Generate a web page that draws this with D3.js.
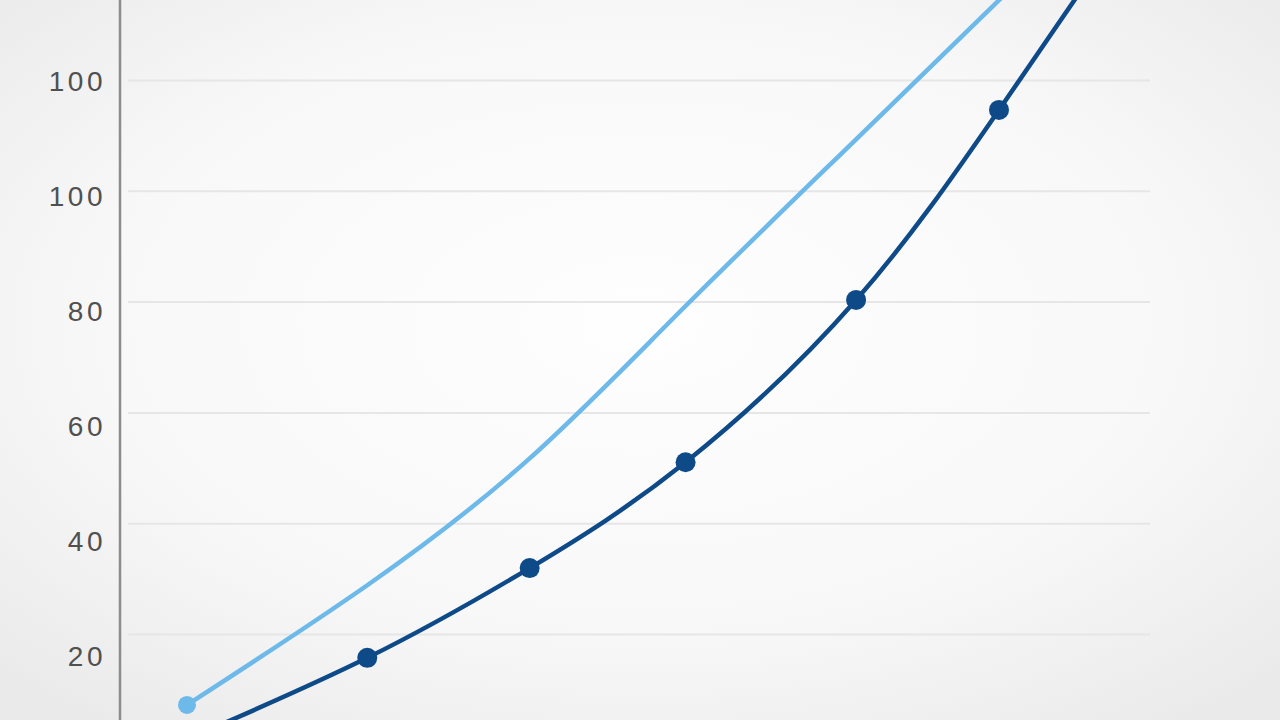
<!DOCTYPE html>
<html>
<head>
<meta charset="utf-8">
<script src="https://cdn.jsdelivr.net/npm/d3@7"></script>
<style>
  html, body { margin: 0; padding: 0; overflow: hidden; }
  body { width: 1280px; height: 720px; }
  .tick text { font-family: "Liberation Sans", Arial, sans-serif; }
</style>
</head>
<body>
<div id="chart"></div>
<script>
const width = 1280;
const height = 720;

// x positions of the points (unlabelled axis)
const xValues = [0, 1.11, 2.11, 3.07, 4.12, 5, 5.9];
const darkValues = [1, 15.7, 31.9, 51.0, 80.3, 114.6, 153];
const lightValues = [7.2, 28.8, 51.7, 79.2, 109.3, 134.4, 159.7];
const darkMarkers = [false, true, true, true, true, true, true];
const lightMarkers = [true, false, false, false, false, false, false];

const yTicks = [20, 40, 60, 80, 100, 120];
const tickLabels = ["20", "40", "60", "80", "100", "100"];

const axisX = 120;
const gridLeft = 128;
const gridRight = 1150;

const svg = d3
  .select("#chart")
  .append("svg")
  .attr("width", width)
  .attr("height", height);

// soft grey vignette behind the plot
const defs = svg.append("defs");
const bg = defs
  .append("radialGradient")
  .attr("id", "bg")
  .attr("cx", "50%")
  .attr("cy", "45%")
  .attr("r", "70%");
bg.append("stop").attr("offset", "0%").attr("stop-color", "#fefefe");
bg.append("stop").attr("offset", "60%").attr("stop-color", "#f8f8f8");
bg.append("stop").attr("offset", "100%").attr("stop-color", "#eaeaea");

svg
  .append("rect")
  .attr("width", width)
  .attr("height", height)
  .attr("fill", "url(#bg)");

const x = d3.scaleLinear().domain([0, 5]).range([187, 999]);
// gridlines and data
const y = d3.scaleLinear().domain([20, 120]).range([634, 80]);
// tick labels drift slightly off the gridlines in the original
const yLabel = d3.scaleLinear().domain([20, 120]).range([657, 82]);

// gridlines
svg
  .append("g")
  .attr("class", "grid")
  .attr("transform", `translate(${gridLeft},0)`)
  .call(
    d3
      .axisLeft(y)
      .tickValues(yTicks)
      .tickSize(-(gridRight - gridLeft))
      .tickFormat("")
  )
  .call((g) => g.select(".domain").remove())
  .call((g) =>
    g.selectAll("line").attr("stroke", "#e6e6e6").attr("stroke-width", 2)
  );

// tick labels
svg
  .append("g")
  .attr("class", "y-axis")
  .attr("transform", `translate(${axisX},0)`)
  .call(
    d3
      .axisLeft(yLabel)
      .tickValues(yTicks)
      .tickSize(0)
      .tickPadding(14)
      .tickFormat((d, i) => tickLabels[i])
  )
  .call((g) => g.select(".domain").remove())
  .call((g) =>
    g
      .selectAll("text")
      .attr("fill", "#505050")
      .style("font-size", "28px")
      .style("letter-spacing", "3.5px")
  );

// axis line runs the full height
svg
  .append("line")
  .attr("x1", axisX)
  .attr("x2", axisX)
  .attr("y1", 0)
  .attr("y2", height)
  .attr("stroke", "#8c8c8c")
  .attr("stroke-width", 2.5);

const series = [
  { name: "light", values: lightValues, markers: lightMarkers, color: "#6cb9ea", r: 9 },
  { name: "dark", values: darkValues, markers: darkMarkers, color: "#0e4a88", r: 10 },
];

const line = d3
  .line()
  .x((d) => x(d.x))
  .y((d) => y(d.v))
  .curve(d3.curveNatural);

series.forEach((s) => {
  const pts = xValues.map((xv, i) => ({ x: xv, v: s.values[i], m: s.markers[i] }));

  svg
    .append("path")
    .datum(pts)
    .attr("fill", "none")
    .attr("stroke", s.color)
    .attr("stroke-width", 4.5)
    .attr("stroke-linecap", "round")
    .attr("d", line);

  svg
    .append("g")
    .selectAll("circle")
    .data(pts.filter((d) => d.m))
    .enter()
    .append("circle")
    .attr("cx", (d) => x(d.x))
    .attr("cy", (d) => y(d.v))
    .attr("r", s.r)
    .attr("fill", s.color);
});
</script>
</body>
</html>
